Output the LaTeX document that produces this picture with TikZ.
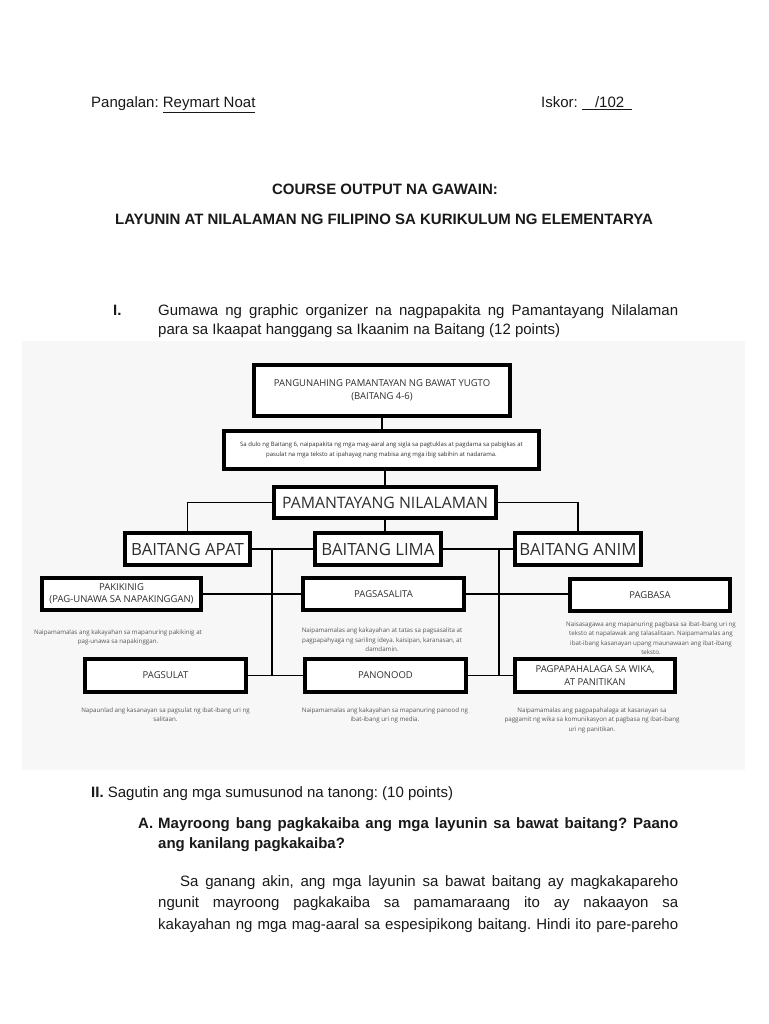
\documentclass[tikz,border=0pt]{standalone}
\usepackage{fontspec}
\setmainfont{Liberation Sans}
\newfontfamily\osans{Open Sans}
\usetikzlibrary{calc}
\definecolor{bgpanel}{HTML}{F7F7F7}
\definecolor{labelgray}{HTML}{2E2E2E}
\definecolor{descgray}{HTML}{555555}
\frenchspacing
\begin{document}
\begin{tikzpicture}[x=1pt,y=-1pt,
  doc/.style={anchor=base west, inner sep=0pt, text=black!90, font=\fontsize{15}{18}\selectfont},
  docb/.style={doc, font=\bfseries\fontsize{15}{18}\selectfont},
  orgbox/.style={draw=black, line width=4pt, fill=white, inner sep=0pt, align=center, text=labelgray, font=\osans\fontsize{9.5}{12.5}\selectfont},
  bigbox/.style={orgbox, font=\osans\fontsize{16.8}{19}\selectfont},
  descbox/.style={orgbox, font=\osans\fontsize{6}{9.5}\selectfont},
  desc/.style={inner sep=0pt, align=center, text=descgray, font=\osans\fontsize{6.2}{9.4}\selectfont},
  link/.style={draw=black, line width=1.6pt}
]
\useasboundingbox (0,0) rectangle (768,1024);
\fill[white] (0,0) rectangle (768,1024);

% header text
\node[doc] (name) at (91,108) {Pangalan: \underline{Reymart Noat}};
\node[doc] (score) at (541,108) {Iskor: \underline{\hspace*{13pt}/102\hspace*{8pt}}};
\node[docb, anchor=base] (title1) at (385,195) {COURSE OUTPUT NA GAWAIN:};
\node[docb, anchor=base] (title2) at (384,225) {LAYUNIN AT NILALAMAN NG FILIPINO SA KURIKULUM NG ELEMENTARYA};
\node[docb] (numI) at (113,315) {I.};
\node[doc] (q1a) at (158,315) {\makebox[520pt][s]{Gumawa ng graphic organizer na nagpapakita ng Pamantayang Nilalaman}};
\node[doc] (q1b) at (158,334) {para sa Ikaapat hanggang sa Ikaanim na Baitang (12 points)};

% diagram panel
\fill[bgpanel] (22,341) rectangle (745,770);

\node[orgbox, minimum width=256pt, minimum height=51pt] (top) at (382,390.5) {PANGUNAHING PAMANTAYAN NG BAWAT YUGTO\\(BAITANG 4-6)};
\node[descbox, minimum width=315pt, minimum height=38pt] (summary) at (381.5,450) {Sa dulo ng Baitang 6, naipapakita ng mga mag-aaral ang sigla sa pagtuklas at pagdama sa pabigkas at\\pasulat na mga teksto at ipahayag nang mabisa ang mga ibig sabihin at nadarama.};
\node[bigbox, font=\osans\fontsize{15.8}{19}\selectfont, minimum width=222pt, minimum height=31pt] (pam) at (385,502.5) {PAMANTAYANG NILALAMAN};
\node[bigbox, minimum width=125pt, minimum height=32pt] (apat) at (187.5,549) {BAITANG APAT};
\node[bigbox, minimum width=126pt, minimum height=32pt] (lima) at (378,549) {BAITANG LIMA};
\node[bigbox, minimum width=126pt, minimum height=32pt] (anim) at (578,549) {BAITANG ANIM};
\node[orgbox, minimum width=159pt, minimum height=32pt] (pak) at (121.5,594) {PAKIKINIG\\(PAG-UNAWA SA NAPAKINGGAN)};
\node[orgbox, minimum width=161pt, minimum height=32pt] (sal) at (383.5,594) {PAGSASALITA};
\node[orgbox, minimum width=160pt, minimum height=32pt] (bas) at (650,595) {PAGBASA};
\node[orgbox, minimum width=161pt, minimum height=33pt] (sul) at (165.5,675.5) {PAGSULAT};
\node[orgbox, minimum width=161pt, minimum height=33pt] (non) at (385.5,675.5) {PANONOOD};
\node[orgbox, minimum width=160pt, minimum height=33pt] (hal) at (595,675.5) {PAGPAPAHALAGA SA WIKA,\\AT PANITIKAN};

\node[desc] (dpak) at (118,637.5) {Naipamamalas ang kakayahan sa mapanuring pakikinig at\\pag-unawa sa napakinggan.};
\node[desc] (dsal) at (382,640) {Naipamamalas ang kakayahan at tatas sa pagsasalita at\\pagpapahyaga ng sariling ideya. kaisipan, karanasan, at\\damdamin.};
\node[desc] (dbas) at (651,638) {Naisasagawa ang mapanuring pagbasa sa ibat-ibang uri ng\\teksto at napalawak ang talasalitaan. Naipamamalas ang\\ibat-ibang kasanayan upang maunawaan ang ibat-ibang\\teksto.};
\node[desc] (dsul) at (165.5,714.5) {Napaunlad ang kasanayan sa pagsulat ng ibat-ibang uri ng\\salitaan.};
\node[desc] (dnon) at (385,715.5) {Naipamamalas ang kakayahan sa mapanuring panood ng\\ibat-ibang uri ng media.};
\node[desc] (dhal) at (592,720) {Naipamamalas ang pagpapahalaga at kasanayan sa\\paggamit ng wika sa komunikasyon at pagbasa ng ibat-ibang\\uri ng panitikan.};

% connectors
\coordinate (v1) at (272,549);
\coordinate (v2) at (499,549);
\draw[link] (top.south) -- (top.south |- summary.north);
\draw[link] (pam.north) -- (pam.north |- summary.south);
\draw[link] (pam.west) -| (apat.north);
\draw[link] (pam.east) -| (anim.north);
\draw[link] (pam.south) -- (pam.south |- lima.north);
\draw[link] (apat.east) -- (lima.west);
\draw[link] (lima.east) -- (anim.west);
\draw[link] (v1) -- (v1 |- sul.east);
\draw[link] (v2) -- (v2 |- hal.west);
\draw[link] (pak.east) -- (sal.west);
\draw[link] (sal.east) -- (sal.east -| bas.west);
\draw[link] (sul.east) -- (non.west);
\draw[link] (non.east) -- (hal.west);

% part II
\node[doc] (numII) at (91,797) {\textbf{II.} Sagutin ang mga sumusunod na tanong: (10 points)};
\node[docb] (numA) at (138,828) {A.};
\node[docb] (qa1) at (158,828) {\makebox[520pt][s]{Mayroong bang pagkakaiba ang mga layunin sa bawat baitang? Paano}};
\node[docb] (qa2) at (158,848) {ang kanilang pagkakaiba?};
\node[doc] (p1) at (180,886) {\makebox[498pt][s]{Sa ganang akin, ang mga layunin sa bawat baitang ay magkakapareho}};
\node[doc] (p2) at (158,907.5) {\makebox[520pt][s]{ngunit mayroong pagkakaiba sa pamamaraang ito ay nakaayon sa}};
\node[doc] (p3) at (158,929) {\makebox[520pt][s]{kakayahan ng mga mag-aaral sa espesipikong baitang. Hindi ito pare-pareho}};
\end{tikzpicture}
\end{document}
